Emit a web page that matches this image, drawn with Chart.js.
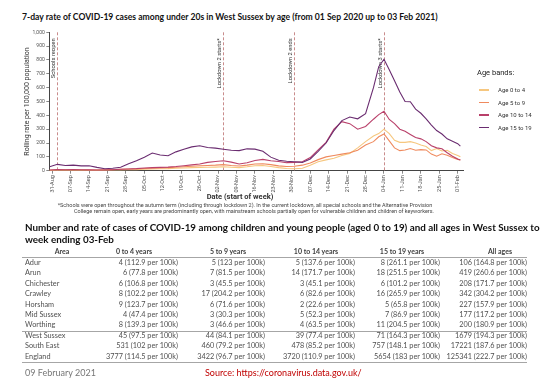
<!DOCTYPE html>
<html>
<head>
<meta charset="utf-8">
<script src="https://cdn.jsdelivr.net/npm/chart.js@4.4.1/dist/chart.umd.min.js"></script>
<style>
body { margin:0; width:560px; height:388px; background:#fff; position:relative; overflow:hidden; font-family:Lato, "Open Sans", sans-serif; }
.t { position:absolute; white-space:nowrap; line-height:1; transform:translateY(-50%); }
.c { transform:translate(-50%,-50%); }
.r { transform:translate(-100%,-50%); }
#chartBox { position:absolute; left:0; top:24px; width:560px; height:180px; }
.hl { position:absolute; height:1px; background:#a6a6a6; }
.lg { position:absolute; height:1.6px; }
</style>
</head>
<body>
<div id="title" class="t" style="left:22px;top:16.5px;font-weight:bold;font-size:10px;color:#111;">7-day rate of COVID-19 cases among under 20s in West Sussex by age (from 01 Sep 2020 up to 03 Feb 2021)</div>
<div id="chartBox"><canvas id="myChart" width="560" height="180"></canvas></div>
<div id="xTitle" class="t c" style="left:240px;top:196.5px;font-family:Roboto;font-weight:bold;font-size:7.5px;color:#333;">Date (start of week)</div>
<div id="note1" class="t c" style="left:245px;top:206px;font-family:Roboto;font-size:5px;color:#444;">*Schools were open throughout the autumn term (including through lockdown 2). In the current lockdown, all special schools and the Alternative Provision</div>
<div id="note2" class="t c" style="left:254px;top:212.3px;font-family:Roboto;font-size:5px;color:#444;">College remain open, early years are predominantly open, with mainstream schools partially open for vulnerable children and children of keyworkers.</div>
<div id="legendBox"></div>
<div id="head1" class="t" style="left:25px;top:228px;font-weight:bold;font-size:11px;color:#111;">Number and rate of cases of COVID-19 among children and young people (aged 0 to 19) and all ages in West Sussex to</div>
<div id="head2" class="t" style="left:25px;top:239.5px;font-weight:bold;font-size:11px;color:#111;">week ending 03-Feb</div>
<div id="tableBox"></div>
<div class="t" style="left:25px;top:372px;font-size:9px;color:#777;">09 February 2021</div>
<div id="src" class="t" style="left:205px;top:372px;font-size:9px;color:#c00000;">Source: https://coronavirus.data.gov.uk/</div>
<script>
// days since 31-Aug-2020
var days = [-1, 2, 5, 8, 11, 14, 17, 20, 23, 26, 29, 32, 35, 38, 41, 44, 47, 50, 53, 56, 59, 62, 65, 68, 71, 74, 77, 80, 83, 86, 89, 92, 95, 98, 101, 104, 107, 110, 113, 116, 119, 122, 124, 126, 128, 130, 132, 134, 136, 138, 140, 142, 144, 146, 148, 150, 152, 154, 155];
var age0to4 = [2, 3, 3, 4, 4, 3, 3, 4, 5, 6, 7, 8, 10, 12, 14, 15, 18, 20, 22, 24, 25, 26, 28, 25, 22, 28, 36, 38, 30, 22, 16, 14, 18, 40, 65, 78, 90, 110, 125, 165, 210, 250, 268, 300, 268, 220, 205, 205, 210, 200, 185, 175, 145, 160, 142, 148, 125, 110, 100];
var age5to9 = [3, 5, 6, 5, 5, 4, 4, 6, 8, 10, 12, 14, 16, 18, 20, 22, 25, 28, 32, 36, 38, 40, 44, 38, 34, 40, 48, 50, 44, 35, 30, 32, 40, 55, 80, 100, 110, 120, 130, 148, 185, 210, 245, 265, 215, 165, 145, 150, 160, 148, 152, 150, 120, 105, 122, 112, 96, 82, 77];
var age10to14 = [5, 8, 7, 8, 7, 6, 5, 5, 7, 10, 12, 15, 20, 22, 24, 26, 30, 36, 42, 48, 60, 66, 72, 62, 48, 58, 74, 82, 72, 66, 58, 60, 65, 95, 150, 205, 300, 354, 340, 300, 320, 372, 405, 430, 370, 340, 300, 285, 262, 240, 230, 210, 180, 165, 158, 130, 105, 85, 77];
var age15to19 = [29, 46, 38, 40, 35, 36, 24, 14, 18, 25, 50, 72, 98, 128, 114, 108, 136, 155, 172, 180, 168, 163, 155, 148, 145, 158, 156, 140, 98, 75, 68, 65, 60, 85, 140, 200, 290, 362, 388, 375, 412, 600, 752, 805, 730, 650, 568, 500, 498, 445, 415, 375, 330, 290, 265, 230, 212, 195, 178];
var seriesLabels = ['Age 0 to 4', 'Age 5 to 9', 'Age 10 to 14', 'Age 15 to 19'];
var tickDays = [0, 7, 14, 21, 28, 35, 42, 49, 56, 63, 70, 77, 84, 91, 98, 105, 112, 119, 126, 133, 140, 147, 154];
var tickLabels = ['31-Aug', '07-Sep', '14-Sep', '21-Sep', '28-Sep', '05-Oct', '12-Oct', '19-Oct', '26-Oct', '02-Nov', '09-Nov', '16-Nov', '23-Nov', '30-Nov', '07-Dec', '14-Dec', '21-Dec', '28-Dec', '04-Jan', '11-Jan', '18-Jan', '25-Jan', '01-Feb'];
var eventDays = [2, 65, 92, 126];
var eventLabels = ['Schools reopen', 'Lockdown 2 starts*', 'Lockdown 2 ends', 'Lockdown 3 starts*'];

var areas = ['Adur', 'Arun', 'Chichester', 'Crawley', 'Horsham', 'Mid Sussex', 'Worthing', 'West Sussex', 'South East', 'England'];
var colHeads = ['0 to 4 years', '5 to 9 years', '10 to 14 years', '15 to 19 years', 'All ages'];
var cases0to4 = [4, 6, 6, 8, 9, 4, 8, 45, 531, 3777];
var rate0to4 = [112.9, 77.8, 106.8, 102.2, 123.7, 47.4, 139.3, 97.5, 102, 114.5];
var cases5to9 = [5, 7, 3, 17, 6, 3, 3, 44, 460, 3422];
var rate5to9 = [123, 81.5, 45.5, 204.2, 71.6, 30.3, 46.6, 84.1, 79.2, 96.7];
var cases10to14 = [5, 14, 3, 6, 2, 5, 4, 39, 478, 3720];
var rate10to14 = [137.6, 171.7, 45.1, 82.6, 22.6, 52.3, 63.5, 77.4, 85.2, 110.9];
var cases15to19 = [8, 18, 6, 16, 5, 7, 11, 71, 757, 5654];
var rate15to19 = [261.1, 251.5, 101.2, 265.9, 65.8, 86.9, 204.5, 164.3, 148.1, 183];
var casesAll = [106, 419, 208, 342, 227, 177, 200, 1679, 17221, 125341];
var rateAll = [164.8, 260.6, 171.7, 304.2, 157.9, 117.2, 180.9, 194.3, 187.6, 222.7];

var colors = ['#f6c77f', '#ef8a5e', '#b9406a', '#6a2c70'];

function fitWidth(id, w) {
    var el = document.getElementById(id);
    var fs = parseFloat(el.style.fontSize);
    el.style.fontSize = (fs * w / el.getBoundingClientRect().width) + 'px';
}
fitWidth('title', 416);
fitWidth('head1', 515);
document.getElementById('head2').style.fontSize = document.getElementById('head1').style.fontSize;
fitWidth('note1', 375);
document.getElementById('note2').style.fontSize = document.getElementById('note1').style.fontSize;

function addText(parent, txt, x, y, cls, style) {
    var d = document.createElement('div');
    d.className = 't ' + (cls || '');
    d.textContent = txt;
    d.style.cssText += 'left:' + x + 'px;top:' + y + 'px;' + (style || '');
    parent.appendChild(d);
    return d;
}

// legend
var lb = document.getElementById('legendBox');
addText(lb, 'Age bands:', 477, 73, '', 'font-family:Roboto;font-size:7.5px;color:#222;');
var legY = [90, 102.5, 115, 127.5];
for (var i = 0; i < seriesLabels.length; i++) {
    var ln = document.createElement('div');
    ln.className = 'lg';
    ln.style.cssText += 'left:479px;width:10px;top:' + (legY[i] - 0.8) + 'px;background:' + colors[i] + ';';
    lb.appendChild(ln);
    addText(lb, seriesLabels[i], 498, legY[i], '', 'font-family:Roboto;font-size:6px;color:#333;');
}

// table
var tb = document.getElementById('tableBox');
var headX = [134, 228, 316, 402, 500];
var rightX = [178, 265, 355, 440, 527];
var rowY = [263, 273.4, 283.8, 294.2, 304.6, 315, 325.4, 335.8, 346.2, 356.6];
var cols = [[cases0to4, rate0to4], [cases5to9, rate5to9], [cases10to14, rate10to14], [cases15to19, rate15to19], [casesAll, rateAll]];
var hs = 'font-size:7px;font-weight:bold;color:#404040;';
var rs = 'font-size:7.3px;color:#505050;';
addText(tb, 'Area', 62, 251, 'c', hs);
for (var c = 0; c < colHeads.length; c++) addText(tb, colHeads[c], headX[c], 251, 'c', hs);
for (var r = 0; r < areas.length; r++) {
    addText(tb, areas[r], 25, rowY[r], '', rs);
    for (var c = 0; c < cols.length; c++) {
        addText(tb, cols[c][0][r] + ' (' + cols[c][1][r] + ' per 100k)', rightX[c], rowY[r], 'r', rs);
    }
}
[256.5, 330.5, 361.5].forEach(function (y) {
    var h = document.createElement('div');
    h.className = 'hl';
    h.style.cssText += 'left:22px;width:505px;top:' + y + 'px;';
    tb.appendChild(h);
});

var eventLines = {
    id: 'eventLines',
    beforeDatasetsDraw: function (chart) {
        var ctx = chart.ctx, xs = chart.scales.x, area = chart.chartArea;
        ctx.save();
        for (var i = 0; i < eventDays.length; i++) {
            var px = Math.round(xs.getPixelForValue(eventDays[i])) + 0.5;
            ctx.strokeStyle = '#c98c8c';
            ctx.lineWidth = 1;
            ctx.setLineDash([3, 2]);
            ctx.beginPath();
            ctx.moveTo(px, area.top);
            ctx.lineTo(px, area.bottom);
            ctx.stroke();
            ctx.save();
            ctx.translate(px - 1.5, area.top + 6);
            ctx.rotate(-Math.PI / 2);
            ctx.fillStyle = '#333';
            ctx.font = '5.8px Roboto';
            ctx.textAlign = 'right';
            ctx.textBaseline = 'bottom';
            ctx.fillText(eventLabels[i], 0, 0);
            ctx.restore();
        }
        ctx.restore();
    }
};

var series = [age0to4, age5to9, age10to14, age15to19];
var datasets = [];
for (var s = 0; s < series.length; s++) {
    datasets.push({
        label: seriesLabels[s],
        data: days.map(function (d, i) { return {x: d, y: series[s][i]}; }),
        borderColor: colors[s],
        backgroundColor: colors[s],
        borderWidth: 1.1,
        pointRadius: 0,
        tension: 0,
        order: 3 - s
    });
}

var ctx = document.getElementById('myChart');
var myChart = new Chart(ctx, {
    type: 'line',
    data: {datasets: datasets},
    options: {
        responsive: false,
        animation: false,
        devicePixelRatio: 1,
        layout: {padding: {top: 8.3, right: 97, left: 0, bottom: 0}},
        plugins: {legend: {display: false}, tooltip: {enabled: false}},
        scales: {
            x: {
                type: 'linear',
                min: -1.1,
                max: 156,
                afterBuildTicks: function (scale) {
                    scale.ticks = tickDays.map(function (v) { return {value: v}; });
                },
                afterFit: function (scale) { scale.height = 33.3; },
                ticks: {
                    autoSkip: false,
                    minRotation: 90,
                    maxRotation: 90,
                    padding: 1.5,
                    color: '#555',
                    font: {family: 'Roboto', size: 5.5},
                    callback: function (v, i) { return tickLabels[i]; }
                },
                grid: {drawOnChartArea: false, tickLength: 3, color: '#888'},
                border: {color: '#444'}
            },
            y: {
                min: 0,
                max: 1000,
                afterFit: function (scale) { scale.width = 49.3; },
                ticks: {stepSize: 50, padding: 1.5, color: '#555', font: {family: 'Roboto', size: 5}},
                grid: {drawOnChartArea: false, tickLength: 3, color: '#888'},
                border: {color: '#444'},
                title: {
                    display: true,
                    text: 'Rolling rate per 100,000 population',
                    color: '#333',
                    font: {family: 'Roboto', size: 7},
                    padding: {top: 22.8, bottom: 0}
                }
            }
        }
    },
    plugins: [eventLines]
});
</script>
</body>
</html>
